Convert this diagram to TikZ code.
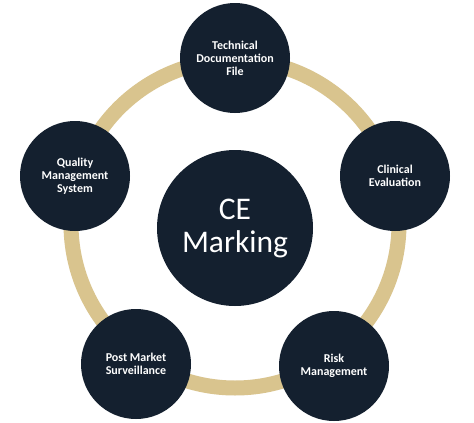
\documentclass[tikz,border=0pt]{standalone}
\usepackage{fontspec}
\setmainfont{Carlito}
\usetikzlibrary{positioning}
\definecolor{navy}{HTML}{14202F}
\definecolor{sand}{HTML}{D9C48E}
\tikzset{
  stage/.style={circle, fill=navy, text=white, minimum size=110pt, inner sep=0pt,
    align=center, font=\fontsize{12}{13}\selectfont\bfseries},
  hub/.style={circle, fill=navy, text=white, minimum size=156pt, inner sep=0pt,
    align=center, font=\fontsize{31.5}{33}\selectfont}
}
\begin{document}
\begin{tikzpicture}[x=1pt, y=-1pt]
          \fill[white] (0,0) rectangle (474,423);
          \useasboundingbox (0,0) rectangle (474,423);

          % Ring
          \draw[sand, line width=15pt] (235,224) circle (164pt);

          % Nodes
          \node[hub] (ce) at (235, 228) {CE\\Marking};
          \node[stage] (tdf) at (235, 58) {Technical\\Documentation\\File};
          \node[stage] (clin) at (395, 176) {Clinical\\Evaluation};
          \node[stage] (risk) at (334, 366) {Risk\\Management};
          \node[stage] (pms) at (136, 364) {Post Market\\Surveillance};
          \node[stage] (qms) at (75, 176) {Quality\\Management\\System};

        \end{tikzpicture}
\end{document}
